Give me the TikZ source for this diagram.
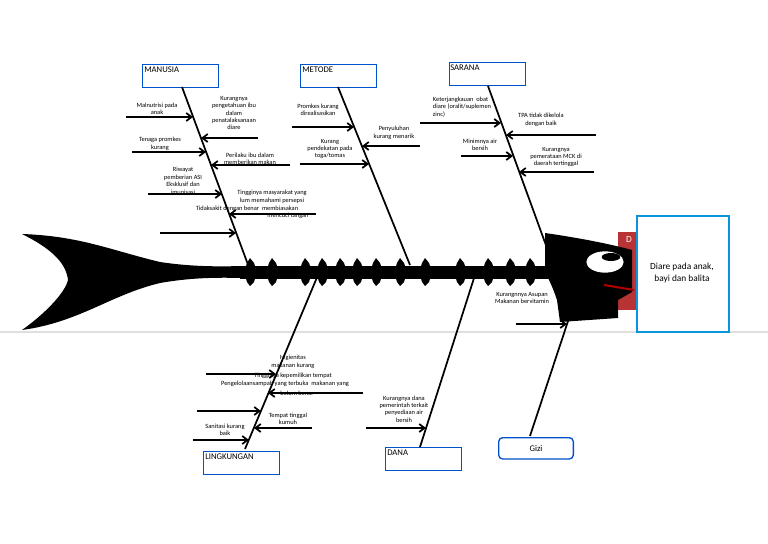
\documentclass[tikz,border=0pt]{standalone}
\usepackage{fontspec}
\setmainfont{Carlito}
\usetikzlibrary{arrows.meta}
\begin{document}
\begin{tikzpicture}[x=0.75pt,y=-0.75pt,
 bone/.style={line width=1.3pt},
 arr/.style={line width=1.3pt,-{Straight Barb[length=4pt,width=6pt]}},
 lbl/.style={font=\fontsize{4.8}{5.6}\selectfont,align=center,inner sep=0pt},
 cat/.style={draw=blue!60!cyan!80!black,line width=1pt,minimum width=57pt,minimum height=17pt,anchor=north west,inner sep=1pt,font=\fontsize{6.5}{7}\selectfont},
 cattext/.style={font=\fontsize{6.5}{7}\selectfont,anchor=north west,inner sep=0pt}]
\useasboundingbox (0,0) rectangle (768,543);
\fill[white] (0,0) rectangle (768,543);
\draw[gray!25,line width=0.8pt] (0,332) -- (768,332);
% fish
\fill[black] (22,234) .. controls (80,236) and (110,250) .. (160,262) .. controls (200,268) and (230,266) .. (250,266) -- (250,278) .. controls (230,278) and (200,276) .. (160,283) .. controls (110,295) and (80,322) .. (22,330) .. controls (50,310) and (66,290) .. (68,280) .. controls (66,262) and (50,248) .. (22,234) -- cycle;
\fill[black] (240,266) rectangle (560,279);
\foreach \x in {250,272,305,322,340,357,376,400,425,460,488,510,530}
  \fill[black] (\x-6,272) -- (\x-3,263) -- (\x,258) -- (\x+4,263) -- (\x+7,272) -- (\x+4,282) -- (\x,286) -- (\x-3,282) -- cycle;
\node[fill=red!65!black!80,minimum width=13pt,minimum height=58pt,inner sep=0pt,anchor=north west] (red) at (618,232) {};
\node[text=white,font=\fontsize{7}{8}\selectfont,inner sep=0pt] (redD) at (629,240) {D};
\fill[black] (545,233) .. controls (580,238) and (610,244) .. (632,250) -- (632,292) -- (618,300) -- (618,318) -- (560,322) -- (557,300) .. controls (552,285) and (548,278) .. (545,272) -- (545,260) -- cycle;
\fill[white] (605,262) ellipse (14pt and 8pt);
\fill[black] (611,257) ellipse (7pt and 3pt);
\draw[red!70!black,line width=1.5pt] (604,285) -- (634,290);
% effect
\node[draw=cyan!80!blue,line width=1.2pt,fill=white,minimum width=69pt,minimum height=87pt,anchor=north west,inner sep=0pt] (eff) at (636,215) {};
\node[font=\fontsize{7}{8.6}\selectfont,align=center] (efft) at (682,273) {Diare pada anak,\\bayi dan balita};
% categories
\node[cat] (man) at (142,64) {}; \node[cattext] at (144,67) {MANUSIA};
\node[cat] (met) at (300,64) {}; \node[cattext] at (302,67) {METODE};
\node[cat] (sar) at (449,62) {}; \node[cattext] at (450,65) {SARANA};
\node[cat] (lin) at (203,451) {}; \node[cattext] at (205,454) {LINGKUNGAN};
\node[cat] (dan) at (385,447) {}; \node[cattext] at (387,450) {DANA};
\node[draw=blue!60!cyan!80!black,line width=1pt,rounded corners=3pt,minimum width=56pt,minimum height=16pt,anchor=north west,font=\fontsize{6.5}{7}\selectfont] (giz) at (498,437) {Gizi};
% bones
\coordinate (m0) at (182,87); \coordinate (m1) at (250,270);
\coordinate (t0) at (338,87); \coordinate (t1) at (410,265);
\coordinate (s0) at (488,86); \coordinate (s1) at (555,270);
\coordinate (l0) at (245,449); \coordinate (l1) at (318,275);
\coordinate (d0) at (420,447); \coordinate (d1) at (475,275);
\coordinate (g0) at (530,436); \coordinate (g1) at (575,300);
\draw[bone] (m0) -- (m1); \draw[bone] (t0) -- (t1); \draw[bone] (s0) -- (s1);
\draw[bone] (l0) -- (l1); \draw[bone] (d0) -- (d1); \draw[bone] (g0) -- (g1);
% MANUSIA
\coordinate (a1) at (126,117); \coordinate (b1) at (193,117);
\coordinate (a2) at (258,138); \coordinate (b2) at (201,138);
\coordinate (a3) at (132,152); \coordinate (b3) at (206,152);
\coordinate (a4) at (290,165); \coordinate (b4) at (211,165);
\coordinate (a5) at (148,194); \coordinate (b5) at (222,194);
\coordinate (a6) at (316,214); \coordinate (b6) at (229,214);
\coordinate (a7) at (160,233); \coordinate (b7) at (236,233);
\foreach \i in {1,...,7} \draw[arr] (a\i) -- (b\i);
\node[lbl] (n1) at (157,109) {Malnutrisi pada\\anak};
\node[lbl] (n2) at (234,113) {Kurangnya\\pengetahuan ibu\\dalam\\penatalaksanaan\\diare};
\node[lbl] (n3) at (160,144) {Tenaga promkes\\kurang};
\node[lbl] (n4) at (250,159) {Perilaku ibu dalam\\memberikan makan};
\node[lbl] (n5) at (183,181) {Riwayat\\pemberian ASI\\Eksklusif dan\\imunisasi};
\node[lbl] (n6) at (272,197) {Tingginya masyarakat yang\\lum memahami persepsi};
\node[lbl] (n6b) at (247,209) {Tidaksakit dengan benar\ \ membiasakan};
\node[lbl] (n6c) at (288,216) {mencuci tangan};
% METODE
\coordinate (c1) at (292,127); \coordinate (e1) at (354,127);
\coordinate (c2) at (420,146); \coordinate (e2) at (362,146);
\coordinate (c3) at (300,164); \coordinate (e3) at (369,164);
\foreach \i in {1,2,3} \draw[arr] (c\i) -- (e\i);
\node[lbl] (k1) at (318,110) {Promkes kurang\\direalisasikan};
\node[lbl] (k2) at (394,133) {Penyuluhan\\kurang menarik};
\node[lbl] (k3) at (330,149) {Kurang\\pendekatan pada\\toga/tomas};
% SARANA
\coordinate (f1) at (420,123); \coordinate (h1) at (501,123);
\coordinate (f2) at (596,135); \coordinate (h2) at (506,135);
\coordinate (f3) at (461,156); \coordinate (h3) at (513,156);
\coordinate (f4) at (594,172); \coordinate (h4) at (519,172);
\foreach \i in {1,...,4} \draw[arr] (f\i) -- (h\i);
\node[lbl,align=left] (p1) at (462,107) {Keterjangkauan\ \ obat\\diare (oralit/suplemen\\zinc)};
\node[lbl] (p2) at (541,120) {TPA tidak dikelola\\dengan baik};
\node[lbl] (p3) at (480,145) {Minimnya air\\bersih};
\node[lbl] (p4) at (556,157) {Kurangnya\\pemerataan MCK di\\daerah tertinggal};
% GIZI
\coordinate (q1) at (516,324); \coordinate (r1) at (567,324);
\draw[arr] (q1) -- (r1);
\node[lbl] (z1) at (522,298) {Kurangnnya Asupan\\Makanan bervitamin};
% LINGKUNGAN
\coordinate (u1) at (206,374); \coordinate (v1) at (276,374);
\coordinate (u2) at (363,393); \coordinate (v2) at (268,393);
\coordinate (u3) at (197,411); \coordinate (v3) at (261,411);
\coordinate (u4) at (312,428); \coordinate (v4) at (254,428);
\coordinate (u5) at (193,440); \coordinate (v5) at (249,440);
\foreach \i in {1,...,5} \draw[arr] (u\i) -- (v\i);
\node[lbl] (w1) at (293,362) {Higienitas\\makanan kurang};
\node[lbl] (w2) at (293,376) {Tingginya kepemilikan tempat};
\node[lbl] (w3) at (285,384) {Pengelolaansampah yang terbuka\ \ makanan yang};
\node[lbl] (w4) at (297,393) {belum benar};
\node[lbl] (w5) at (288,419) {Tempat tinggal\\kumuh};
\node[lbl] (w6) at (225,430) {Sanitasi kurang\\baik};
% DANA
\coordinate (x1) at (366,428); \coordinate (y1) at (426,428);
\draw[arr] (x1) -- (y1);
\node[lbl] (o1) at (404,409) {Kurangnya dana\\pemerintah terkait\\penyediaan air\\bersih};
\end{tikzpicture}
\end{document}
